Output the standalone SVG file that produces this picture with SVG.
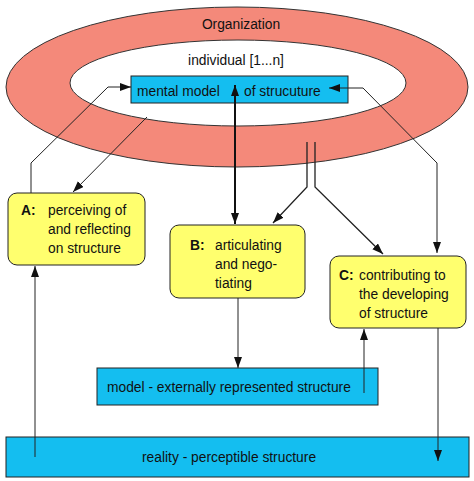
<svg xmlns="http://www.w3.org/2000/svg" width="474" height="481" viewBox="0 0 474 481">
<style>
text{font-family:"Liberation Sans",Arial,sans-serif;font-size:13.8px;fill:#111}
.b{font-weight:bold}
.cy{fill:#14bef0;stroke:#222;stroke-width:1}
.yl{fill:#ffff6e;stroke:#222;stroke-width:1}
.c{fill:none;stroke:#222;stroke-width:1}
.t{fill:none;stroke:#111;stroke-width:2}
</style>
<defs>
<marker id="ah" markerUnits="userSpaceOnUse" markerWidth="12" markerHeight="10" refX="11" refY="4" orient="auto">
<path d="M0,0 L11,4 L0,8 Z" fill="#111"/>
</marker>
<marker id="as" markerUnits="userSpaceOnUse" markerWidth="12" markerHeight="10" refX="11" refY="4" orient="auto-start-reverse">
<path d="M0,0 L11,4 L0,8 Z" fill="#111"/>
</marker>
</defs>
<rect width="474" height="481" fill="#fff"/>
<g id="organization">
<ellipse cx="237" cy="87" rx="231" ry="80" fill="#f4897a" stroke="#333" stroke-width="1"/>
<text x="241" y="29" text-anchor="middle">Organization</text>
</g>
<g id="individual">
<ellipse cx="238" cy="83" rx="168" ry="43" fill="#fff" stroke="#333" stroke-width="1"/>
<text x="236" y="65" text-anchor="middle">individual [1...n]</text>
</g>
<g id="mental-model">
<rect class="cy" x="131" y="76" width="217" height="27"/>
<text x="137" y="96">mental model</text>
<text x="244" y="96">of strucuture</text>
</g>
<g id="node-a">
<rect class="yl" x="8" y="193" width="137" height="72" rx="9"/>
<text class="b" x="21" y="215">A:</text>
<text x="48" y="215">perceiving of</text>
<text x="48" y="234">and reflecting</text>
<text x="48" y="253">on structure</text>
</g>
<g id="node-b">
<rect class="yl" x="170" y="225" width="135" height="73" rx="9"/>
<text class="b" x="190" y="250">B:</text>
<text x="215" y="250">articulating</text>
<text x="215" y="269">and nego-</text>
<text x="215" y="288">tiating</text>
</g>
<g id="node-c">
<rect class="yl" x="330" y="256" width="136" height="72" rx="9"/>
<text class="b" x="339" y="280">C:</text>
<text x="359" y="280">contributing to</text>
<text x="359" y="299">the developing</text>
<text x="359" y="318">of structure</text>
</g>
<g id="model">
<rect class="cy" x="97" y="368" width="281" height="37"/>
<text x="107" y="392">model - externally represented structure</text>
</g>
<g id="reality">
<rect class="cy" x="6" y="437" width="463" height="40"/>
<text x="142" y="462">reality - perceptible structure</text>
</g>
<g id="connectors">
<polyline class="c" points="31,193 31,163 108,87 131,87" marker-end="url(#ah)"/>
<polyline class="c" points="147,117 73,192" marker-end="url(#ah)"/>
<polyline class="c" points="437,253 437,163 363,88 329,88" marker-end="url(#ah)" marker-start="url(#as)"/>
<line class="t" x1="235" y1="85" x2="235" y2="224" marker-start="url(#as)" marker-end="url(#ah)"/>
<polyline class="c" points="307,142 307,187 273,223" marker-end="url(#ah)" style="stroke-width:1.3"/>
<polyline class="c" points="315,142 315,187 383,254" marker-end="url(#ah)" style="stroke-width:1.3"/>
<line class="c" x1="35" y1="457" x2="35" y2="266" marker-end="url(#ah)"/>
<line class="c" x1="238" y1="298" x2="238" y2="368" marker-end="url(#ah)"/>
<line class="c" x1="364" y1="393" x2="364" y2="329" marker-end="url(#ah)"/>
<line class="c" x1="438" y1="328" x2="438" y2="461" marker-end="url(#ah)"/>
</g>
</svg>
